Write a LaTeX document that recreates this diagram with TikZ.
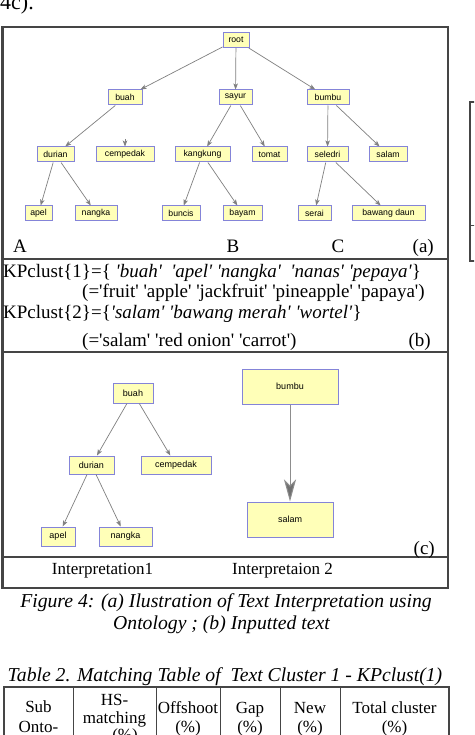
\documentclass[tikz,border=0pt]{standalone}
\usepackage{fontspec}
\setmainfont{Liberation Serif}
\setsansfont{Liberation Sans}
\usetikzlibrary{arrows.meta}
\newcommand{\sq}{\textquotesingle}
\definecolor{nodefill}{HTML}{FFFFB8}
\definecolor{nodeborder}{HTML}{8484D8}
\definecolor{arrowgray}{HTML}{808080}
\definecolor{bigarrowgray}{HTML}{707070}
\definecolor{framegray}{HTML}{454545}
\tikzset{
  onto/.style={draw=nodeborder, fill=nodefill, line width=1pt, inner sep=0pt,
    font=\sffamily\fontsize{8.7}{9}\selectfont, minimum height=15pt},
  ontobig/.style={onto, font=\sffamily\fontsize{9}{10}\selectfont},
  arr/.style={draw=arrowgray, line width=0.7pt, -{Stealth[length=6pt,width=4.5pt,inset=1.5pt]}},
  bigarr/.style={draw=bigarrowgray!80, line width=1pt, -{Stealth[length=22pt,width=12pt,inset=6pt,fill=bigarrowgray]}},
  frame/.style={draw=framegray, line width=1.4pt},
  body/.style={font=\fontsize{19}{22}\selectfont, inner sep=0pt},
  fragtext/.style={font=\fontsize{22}{24}\selectfont, inner sep=0pt},
  interp/.style={font=\fontsize{17}{20}\selectfont, inner sep=0pt},
  captext/.style={font=\itshape\fontsize{19.7}{22}\selectfont, inner sep=0pt},
  th/.style={font=\fontsize{17}{19}\selectfont, inner sep=0pt}
}
\begin{document}
\begin{tikzpicture}[x=1pt,y=-1pt]
\useasboundingbox (0,0) rectangle (474,735);
\clip (0,0) rectangle (474,735);
\fill[white] (0,0) rectangle (474,735);
% top text fragment
\node[fragtext, anchor=base west] (frag) at (0,10) {4c).};
% main frame
\draw[frame] (2,27) rectangle (448,588);
\draw[framegray, line width=2.4pt] (2.5,27) -- (2.5,588);
\draw[frame] (2,259) -- (448,259);
\draw[frame] (2,352) -- (448,352);
\draw[frame] (2,557) -- (448,557);
% right partial box
\draw[framegray, line width=1.2pt] (480,102) -- (470,102) -- (470,261) -- (480,261);
\draw[framegray, line width=1pt] (470,225) -- (480,225);
% ---- (a) tree
\node[onto, minimum width=26pt] (root) at (236,40) {root};
\node[onto, minimum width=34pt] (buah) at (125,97.5) {buah};
\node[onto, minimum width=33pt] (sayur) at (235.5,97.5) {sayur};
\node[onto, minimum width=42pt] (bumbu) at (328,97.5) {bumbu};
\node[onto, minimum width=37pt] (durian) at (55.5,154.5) {durian};
\node[onto, minimum width=58pt] (cempedak) at (125,154.5) {cempedak};
\node[onto, minimum width=55pt] (kangkung) at (202.5,154.5) {kangkung};
\node[onto, minimum width=35pt] (tomat) at (269.5,154.5) {tomat};
\node[onto, minimum width=41pt] (seledri) at (327.5,154.5) {seledri};
\node[onto, minimum width=38pt] (salam) at (388,154.5) {salam};
\node[onto, minimum width=27pt, minimum height=14pt] (apel) at (38.5,213) {apel};
\node[onto, minimum width=42pt, minimum height=14pt] (nangka) at (96,213) {nangka};
\node[onto, minimum width=38pt, minimum height=14pt] (buncis) at (181,213) {buncis};
\node[onto, minimum width=39pt, minimum height=14pt] (bayam) at (242.5,213) {bayam};
\node[onto, minimum width=33pt, minimum height=14pt] (serai) at (314.5,213) {serai};
\node[onto, minimum width=73pt, minimum height=14pt] (bawang) at (388.5,213) {bawang daun};
\coordinate (cstub) at (125,139);
\draw[arr] (root) -- (buah);
\draw[arr] (root) -- (sayur);
\draw[arr] (root) -- (bumbu);
\draw[arr] (buah) -- (durian);
\draw[arr] (cstub) -- (cempedak);
\draw[arr] (sayur) -- (kangkung);
\draw[arr] (sayur) -- (tomat);
\draw[arr] (bumbu) -- (seledri);
\draw[arr] (bumbu) -- (salam);
\draw[arr] (durian) -- (apel);
\draw[arr] (durian) -- (nangka);
\draw[arr] (kangkung) -- (buncis);
\draw[arr] (kangkung) -- (bayam);
\draw[arr] (seledri) -- (serai);
\draw[arr] (seledri) -- (bawang);
\node[body, anchor=base] (lA) at (20,252) {A};
\node[body, anchor=base] (lB) at (233,252) {B};
\node[body, anchor=base] (lC) at (338,252) {C};
\node[body, anchor=base east] (la) at (434,252) {(a)};
% ---- (b) text
\node[body, anchor=base west] (b1) at (3,277) {KPclust\{1\}=\{ \textit{\sq buah\sq\enspace\sq apel\sq\ \sq nangka\sq\enspace\sq nanas\sq\ \sq pepaya\sq}\}};
\node[body, anchor=base west] (b2) at (82,297) {(=\sq fruit\sq\ \sq apple\sq\ \sq jackfruit\sq\ \sq pineapple\sq\ \sq papaya\sq)};
\node[body, anchor=base west] (b3) at (3,318) {KPclust\{2\}=\{\textit{\sq salam\sq\ \sq bawang merah\sq\ \sq wortel\sq}\}};
\node[body, anchor=base west] (b4) at (82,346) {(=\sq salam\sq\ \sq red onion\sq\ \sq carrot\sq)};
\node[body, anchor=base east] (lb) at (431,346) {(b)};
% ---- (c) trees
\node[ontobig, minimum width=40pt, minimum height=20pt] (cbuah) at (133,393) {buah};
\node[ontobig, minimum width=45pt, minimum height=18pt] (cdurian) at (91.5,465) {durian};
\node[ontobig, minimum width=70pt, minimum height=18pt] (ccemp) at (176,465) {cempedak};
\node[ontobig, minimum width=34pt, minimum height=19pt] (capel) at (58,536.5) {apel};
\node[ontobig, minimum width=53pt, minimum height=19pt] (cnangka) at (125.5,536.5) {nangka};
\node[ontobig, minimum width=96pt, minimum height=35pt] (cbumbu) at (290,386.5) {bumbu};
\node[ontobig, minimum width=86pt, minimum height=35pt] (csalam) at (290,519.5) {salam};
\draw[arr] (cbuah) -- (cdurian);
\draw[arr] (cbuah) -- (ccemp);
\draw[arr] (cdurian) -- (capel);
\draw[arr] (cdurian) -- (cnangka);
\draw[bigarr] (cbumbu) -- (csalam);
\node[body, anchor=base east] (lc) at (435,554) {(c)};
\node[interp, anchor=base] (i1) at (102.5,574) {Interpretation1};
\node[interp, anchor=base] (i2) at (282.5,574) {Interpretaion 2};
% ---- caption
\node[captext, anchor=base] (cap1) at (226,607) {Figure 4: (a) Ilustration of Text Interpretation using};
\node[captext, anchor=base] (cap2) at (221.5,629) {Ontology ; (b) Inputted text};
\node[captext, anchor=base] (tcap) at (225,681) {Table 2. Matching Table of\enspace Text Cluster 1 - KPclust(1)};
% ---- table
\draw[framegray, line width=1.2pt] (4,740) -- (4,687) -- (449,687) -- (449,740);
\foreach \xx in {73,156,220,280,340}{
  \draw[framegray, line width=1pt] (\xx,687) -- (\xx,740);
}
\node[th, anchor=base] (h1a) at (38.5,712) {Sub};
\node[th, anchor=base] (h1b) at (38.5,732) {Onto-};
\node[th, anchor=base] (h2a) at (114.5,705) {HS-};
\node[th, anchor=base] (h2b) at (114.5,723) {matching};
\node[th, anchor=base] (h2c) at (125,740) {(\%)};
\node[th, anchor=base] (h3a) at (188,713) {Offshoot};
\node[th, anchor=base] (h3b) at (188,732) {(\%)};
\node[th, anchor=base] (h4a) at (250,713) {Gap};
\node[th, anchor=base] (h4b) at (250,732) {(\%)};
\node[th, anchor=base] (h5a) at (310,713) {New};
\node[th, anchor=base] (h5b) at (310,732) {(\%)};
\node[th, anchor=base] (h6a) at (394.5,713) {Total cluster};
\node[th, anchor=base] (h6b) at (394.5,732) {(\%)};
\end{tikzpicture}
\end{document}
